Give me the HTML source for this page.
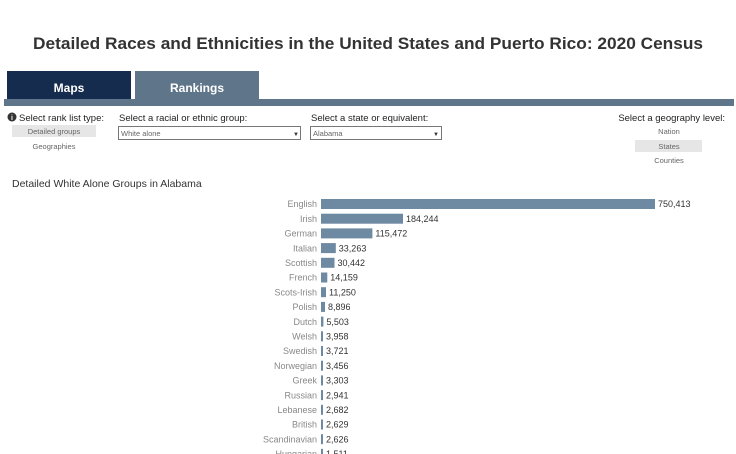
<!DOCTYPE html>
<html><head><meta charset="utf-8"><style>
body{margin:0;background:#fff;}
svg{display:block;font-family:"Liberation Sans",sans-serif;}
</style></head><body>
<svg width="736" height="454" viewBox="0 0 736 454" xmlns="http://www.w3.org/2000/svg">
<text x="368" y="49" text-anchor="middle" font-size="17" font-weight="bold" fill="#333" textLength="670" lengthAdjust="spacingAndGlyphs">Detailed Races and Ethnicities in the United States and Puerto Rico: 2020 Census</text>
<rect x="7" y="71" width="124" height="29" fill="#152c4e"/>
<rect x="135" y="71" width="124" height="29" fill="#5f7589"/>
<rect x="4" y="99" width="730" height="7" fill="#5f7589"/>
<text x="69" y="92" text-anchor="middle" font-size="12" font-weight="bold" fill="#fff">Maps</text>
<text x="197" y="92" text-anchor="middle" font-size="12" font-weight="bold" fill="#fff">Rankings</text>
<circle cx="12" cy="117" r="4.5" fill="#333"/><text x="12" y="120" text-anchor="middle" font-size="7" font-weight="bold" fill="#fff">i</text>
<text x="19" y="121" font-size="9.5" fill="#222">Select rank list type:</text>
<rect x="12" y="125" width="84" height="12" fill="#e6e6e6"/>
<text x="54" y="134" text-anchor="middle" font-size="7.5" fill="#666">Detailed groups</text>
<text x="54" y="149" text-anchor="middle" font-size="7.5" fill="#666">Geographies</text>
<text x="119" y="121" font-size="9.5" fill="#222">Select a racial or ethnic group:</text>
<rect x="118.5" y="126.5" width="182" height="13" fill="#fff" stroke="#777"/>
<text x="121" y="136" font-size="7.5" fill="#666">White alone</text>
<text x="293" y="136" font-size="6" fill="#333">▼</text>
<text x="311" y="121" font-size="9.5" fill="#222">Select a state or equivalent:</text>
<rect x="310.5" y="126.5" width="131" height="13" fill="#fff" stroke="#777"/>
<text x="313" y="136" font-size="7.5" fill="#666">Alabama</text>
<text x="433" y="136" font-size="6" fill="#333">▼</text>
<text x="725" y="121" text-anchor="end" font-size="9.5" fill="#222">Select a geography level:</text>
<text x="669" y="134" text-anchor="middle" font-size="7.5" fill="#666">Nation</text>
<rect x="635" y="140" width="67" height="12" fill="#e6e6e6"/>
<text x="669" y="149" text-anchor="middle" font-size="7.5" fill="#666">States</text>
<text x="669" y="163" text-anchor="middle" font-size="7.5" fill="#666">Counties</text>
<text x="12" y="187" font-size="10.5" fill="#333">Detailed White Alone Groups in Alabama</text>
<g font-size="9" fill="#888" text-anchor="end">
<text x="317" y="207.2">English</text>
<text x="317" y="221.9">Irish</text>
<text x="317" y="236.6">German</text>
<text x="317" y="251.3">Italian</text>
<text x="317" y="266">Scottish</text>
<text x="317" y="280.7">French</text>
<text x="317" y="295.4">Scots-Irish</text>
<text x="317" y="310.1">Polish</text>
<text x="317" y="324.8">Dutch</text>
<text x="317" y="339.5">Welsh</text>
<text x="317" y="354.2">Swedish</text>
<text x="317" y="368.9">Norwegian</text>
<text x="317" y="383.6">Greek</text>
<text x="317" y="398.3">Russian</text>
<text x="317" y="413">Lebanese</text>
<text x="317" y="427.7">British</text>
<text x="317" y="442.4">Scandinavian</text>
<text x="317" y="457.1">Hungarian</text>
</g>
<g fill="#6e89a2">
<rect x="321" y="199" width="334" height="10"/>
<rect x="321" y="213.7" width="82" height="10"/>
<rect x="321" y="228.4" width="51.4" height="10"/>
<rect x="321" y="243.1" width="14.8" height="10"/>
<rect x="321" y="257.8" width="13.5" height="10"/>
<rect x="321" y="272.5" width="6.3" height="10"/>
<rect x="321" y="287.2" width="5" height="10"/>
<rect x="321" y="301.9" width="4" height="10"/>
<rect x="321" y="316.6" width="2.4" height="10"/>
<rect x="321" y="331.3" width="2" height="10"/>
<rect x="321" y="346" width="2" height="10"/>
<rect x="321" y="360.7" width="2" height="10"/>
<rect x="321" y="375.4" width="2" height="10"/>
<rect x="321" y="390.1" width="2" height="10"/>
<rect x="321" y="404.8" width="2" height="10"/>
<rect x="321" y="419.5" width="2" height="10"/>
<rect x="321" y="434.2" width="2" height="10"/>
<rect x="321" y="448.9" width="2" height="10"/>
</g>
<g font-size="9" fill="#333">
<text x="658" y="207.2">750,413</text>
<text x="406" y="221.9">184,244</text>
<text x="375.4" y="236.6">115,472</text>
<text x="338.8" y="251.3">33,263</text>
<text x="337.5" y="266">30,442</text>
<text x="330.3" y="280.7">14,159</text>
<text x="329" y="295.4">11,250</text>
<text x="328" y="310.1">8,896</text>
<text x="326.4" y="324.8">5,503</text>
<text x="326" y="339.5">3,958</text>
<text x="326" y="354.2">3,721</text>
<text x="326" y="368.9">3,456</text>
<text x="326" y="383.6">3,303</text>
<text x="326" y="398.3">2,941</text>
<text x="326" y="413">2,682</text>
<text x="326" y="427.7">2,629</text>
<text x="326" y="442.4">2,626</text>
<text x="326" y="457.1">1,511</text>
</g>
</svg>
</body></html>
